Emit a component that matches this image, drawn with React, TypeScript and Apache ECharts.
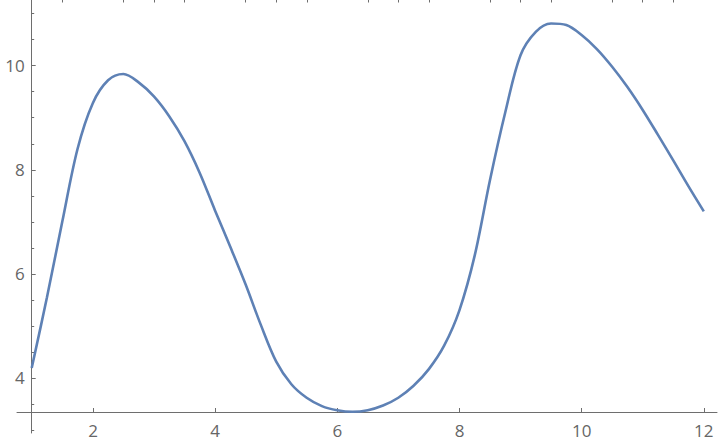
import { useEffect, useRef } from "react";
import * as echarts from "echarts";

// values, every quarter unit
const xValues = [
  1, 1.25, 1.5, 1.75, 2, 2.25, 2.5, 2.75, 3, 3.25, 3.5, 3.75, 4, 4.25, 4.5, 4.75,
  5, 5.25, 5.5, 5.75, 6, 6.25, 6.5, 6.75, 7, 7.25, 7.5, 7.75, 8, 8.25, 8.5, 8.75,
  9, 9.25, 9.5, 9.75, 10, 10.25, 10.5, 10.75, 11, 11.25, 11.5, 11.75, 12,
];
const yValues = [
  4.19, 5.55, 7.0, 8.4, 9.28, 9.72, 9.84, 9.68, 9.41, 9.03, 8.55, 7.94, 7.22, 6.52, 5.8, 5.02,
  4.32, 3.88, 3.62, 3.46, 3.38, 3.35, 3.38, 3.47, 3.62, 3.85, 4.17, 4.62, 5.3, 6.35, 7.8, 9.1,
  10.2, 10.65, 10.81, 10.78, 10.59, 10.32, 9.98, 9.59, 9.15, 8.67, 8.18, 7.68, 7.2,
];
const xTickLabels = [2, 4, 6, 8, 10, 12];
const xMinorTicks = [1.5, 2.5, 3, 3.5, 4.5, 5, 5.5, 6.5, 7, 7.5, 8.5, 9, 9.5, 10.5, 11, 11.5];
const yTickLabels = [4, 6, 8, 10];
const yMinorTicks = [3, 3.5, 4.5, 5, 5.5, 6.5, 7, 7.5, 8.5, 9, 9.5, 10.5, 11];

const AXIS = "#6e6e6e";
const LABEL = "#666666";
const FONT = "Open Sans";

export default function App() {
  const chartRef = useRef(null);

  useEffect(() => {
    document.body.style.margin = "0";
    const chart = echarts.init(chartRef.current, null, { renderer: "svg" });

    const points = xValues.map((x, i) => [x, yValues[i]]);

    const options = {
      animation: false,
      grid: [
        // grid for the horizontal axis (line at y = 412)
        { left: 17, right: 3, top: 0, bottom: 32 },
        // grid for the vertical axis and the curve
        { left: 31.7, right: 3, top: 0, bottom: 11 },
      ],
      xAxis: [
        {
          type: "value",
          gridIndex: 0,
          min: 0.755,
          max: 12.216,
          splitLine: { show: false },
          axisLine: { show: true, lineStyle: { color: AXIS, width: 1 } },
          axisTick: {
            show: true,
            inside: true,
            length: 4,
            customValues: xTickLabels,
            lineStyle: { color: AXIS },
          },
          axisLabel: {
            customValues: xTickLabels,
            margin: 10,
            color: LABEL,
            fontFamily: FONT,
            fontSize: 17,
          },
        },
        {
          type: "value",
          gridIndex: 0,
          min: 0.755,
          max: 12.216,
          splitLine: { show: false },
          axisLine: { show: false },
          axisTick: {
            show: true,
            inside: true,
            length: 2.5,
            customValues: xMinorTicks,
            lineStyle: { color: AXIS },
          },
          axisLabel: { show: false },
        },
        {
          type: "value",
          gridIndex: 1,
          min: 1,
          max: 12.216,
          show: false,
        },
      ],
      yAxis: [
        {
          type: "value",
          gridIndex: 0,
          min: 3.347,
          max: 11.262,
          show: false,
        },
        {
          type: "value",
          gridIndex: 1,
          min: 2.943,
          max: 11.262,
          splitLine: { show: false },
          axisLine: { show: true, lineStyle: { color: AXIS, width: 1 } },
          axisTick: {
            show: true,
            inside: true,
            length: 4,
            customValues: yTickLabels,
            lineStyle: { color: AXIS },
          },
          axisLabel: {
            customValues: yTickLabels,
            margin: 7,
            color: LABEL,
            fontFamily: FONT,
            fontSize: 17,
          },
        },
        {
          type: "value",
          gridIndex: 1,
          min: 2.943,
          max: 11.262,
          position: "left",
          splitLine: { show: false },
          axisLine: { show: false },
          axisTick: {
            show: true,
            inside: true,
            length: 2.5,
            customValues: yMinorTicks,
            lineStyle: { color: AXIS },
          },
          axisLabel: { show: false },
        },
      ],
      series: [
        {
          type: "line",
          xAxisIndex: 2,
          yAxisIndex: 1,
          data: points,
          smooth: 0.33,
          showSymbol: false,
          lineStyle: { color: "#5E81B5", width: 2.6 },
        },
      ],
    };

    chart.setOption(options);

    return () => {
      chart.dispose();
    };
  }, []);

  return <div ref={chartRef} style={{ width: "720px", height: "444px" }} />;
}
